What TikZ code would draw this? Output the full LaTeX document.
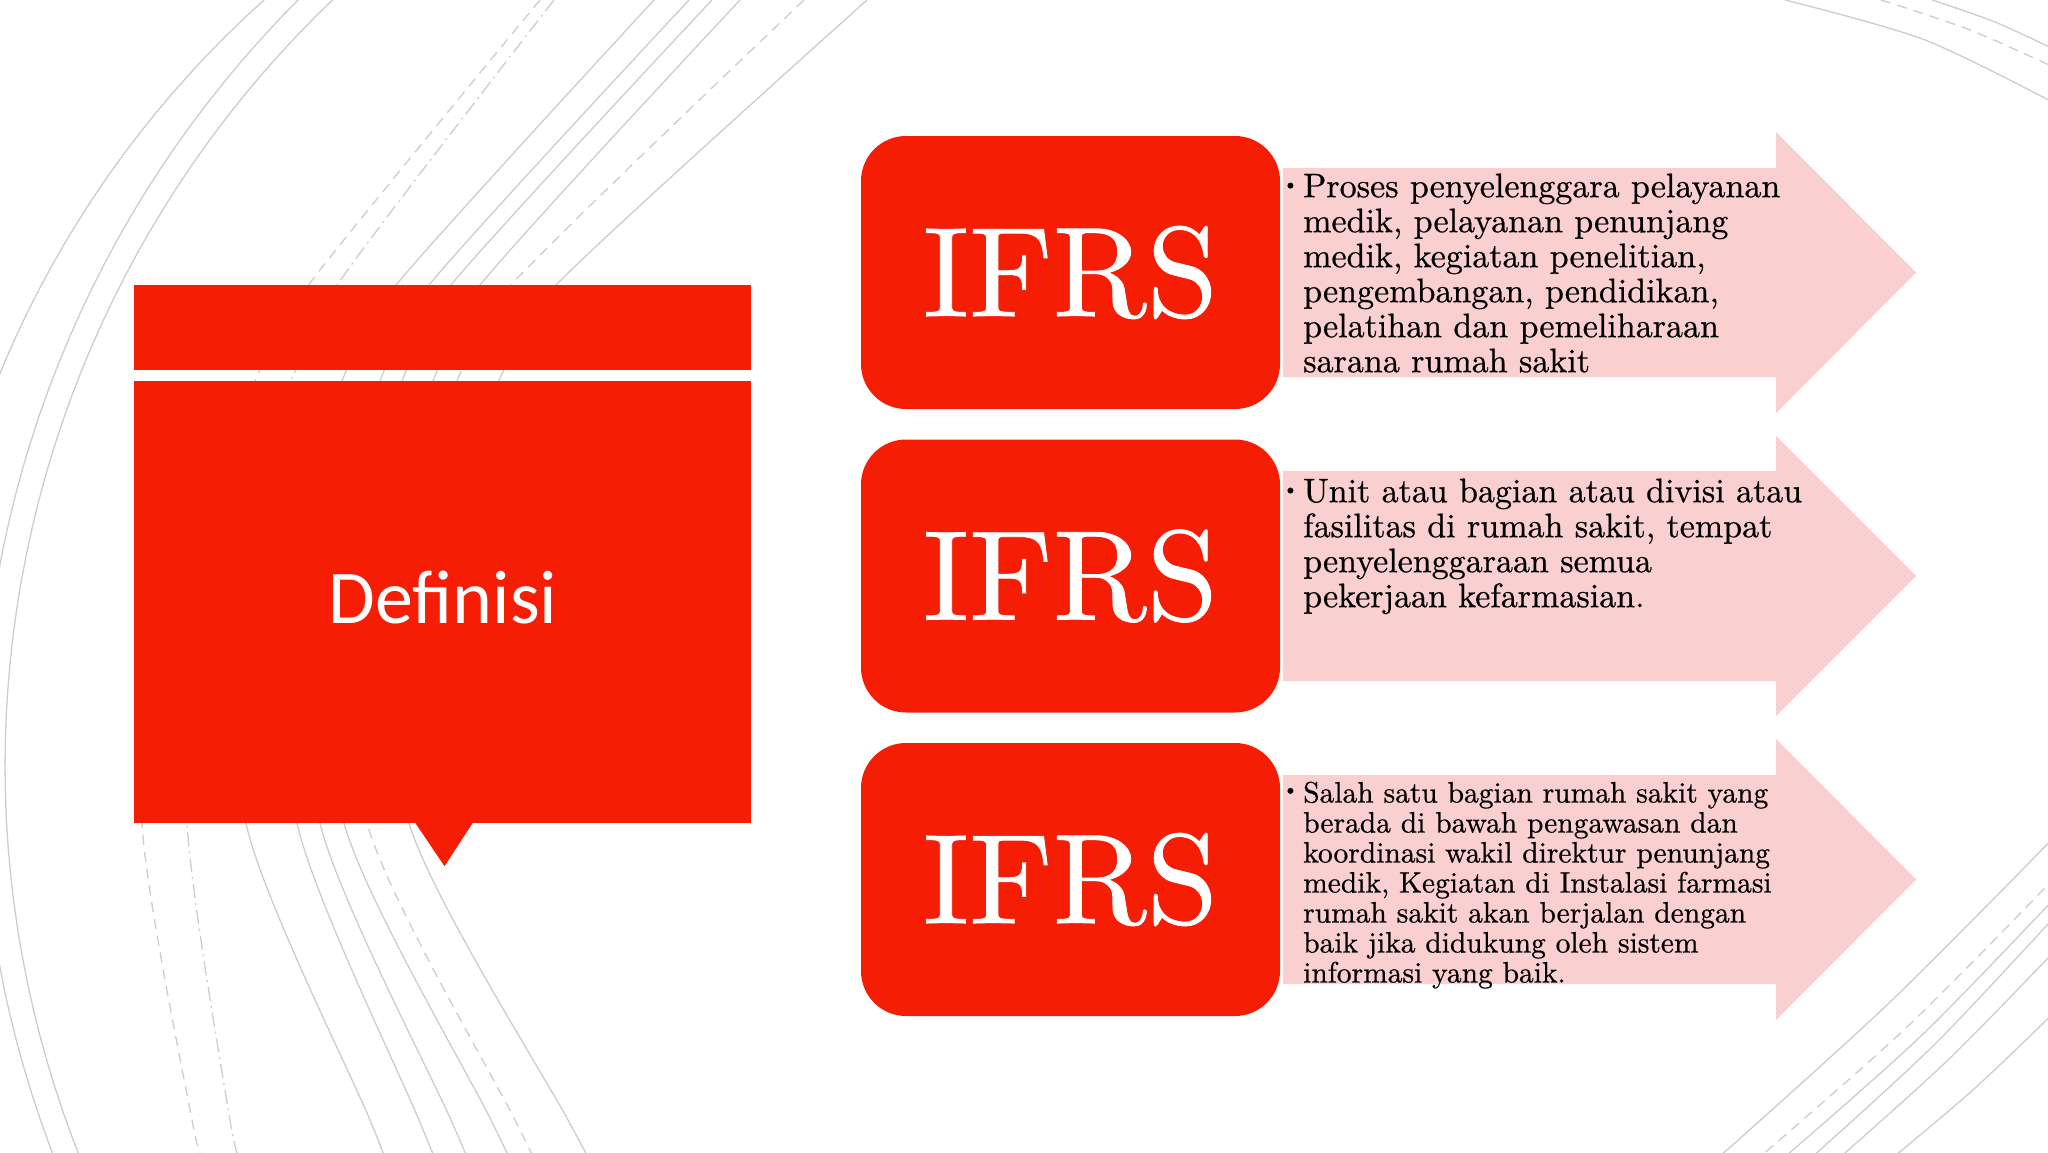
\documentclass[tikz,border=0pt]{standalone}
\usepackage{fontspec}
\setmainfont{lmroman10-regular.otf}
\newfontfamily\heavyfont[FakeBold=0.6]{lmroman10-regular.otf}
\newfontfamily\titlefont{Carlito}
\usetikzlibrary{positioning}

\definecolor{defred}{RGB}{246,29,5}
\definecolor{arrowpink}{RGB}{250,207,208}
\definecolor{ringgray}{RGB}{205,205,205}

\tikzset{
  ring/.style={draw=ringgray, line width=1.3pt},
  ringdash/.style={ring, dash pattern=on 10pt off 7pt},
  ringdashdot/.style={ring, dash pattern=on 14pt off 5pt on 2pt off 5pt},
  ifrsbox/.style={fill=defred, rounded corners=45pt, minimum width=419pt,
    minimum height=273pt, inner sep=0pt, text=white,
    font=\heavyfont\fontsize{128}{128}\selectfont},
  desctext/.style={anchor=north west, align=left, inner sep=0pt,
    font=\heavyfont\fontsize{34}{35}\selectfont},
  desctextsmall/.style={desctext, font=\heavyfont\fontsize{29.5}{30}\selectfont}
}
\newcommand{\bul}{\llap{\raisebox{7pt}{\fontsize{20}{20}\selectfont\textbullet}\hspace{5pt}}}

\begin{document}
\begin{tikzpicture}[x=1pt,y=-1pt]
  \useasboundingbox (0,0) rectangle (2048,1152);
  \fill[white] (0,0) rectangle (2048,1152);

  % background rings
  \begin{scope}
    \clip (0,0) rectangle (2048,1152);
    \draw[ring] plot[domain=120:250,samples=90] ({951+1029*cos(\x)},{766+1029*sin(\x)});
    \draw[ring] plot[domain=120:250,samples=90] ({1065+1084*cos(\x)},{766+1084*sin(\x)});
    \draw[ring] plot[domain=120:250,samples=90] ({1065+1060*cos(\x)},{766+1060*sin(\x)});
    \draw[ringdash] plot[smooth] coordinates {(540,0) (310,283) (257,376) (163,600) (142,823) (192,1120) (205,1160)};
    \draw[ringdashdot] plot[smooth] coordinates {(554,0) (342,278) (293,376) (200,600) (187,823) (230,1120) (242,1160)};
    \draw[ring] plot[smooth] coordinates {(654,0) (396,285) (344,376) (260,600) (246,823) (370,1120) (385,1160)};
    \draw[ring] plot[smooth] coordinates {(689,0) (429,285) (382,376) (305,600) (297,823) (419,1120) (436,1160)};
    \draw[ring] plot[smooth] coordinates {(712,0) (451,285) (404,376) (328,600) (320,823) (451,1120) (468,1160)};
    \draw[ring] plot[smooth] coordinates {(740,0) (480,285) (435,376) (352,600) (344,823) (491,1120) (510,1160)};
    \draw[ringdash] plot[smooth] coordinates {(804,0) (511,285) (459,376) (375,600) (367,823) (515,1120) (535,1160)};
    \draw[ring] plot[smooth] coordinates {(867,0) (556,285) (501,376) (415,600) (409,823) (568,1120) (590,1160)};
    % top right
    \draw[ring] plot[smooth] coordinates {(1785,0) (1925,40) (2060,106)};
    \draw[ringdash] plot[smooth] coordinates {(1881,0) (1970,30) (2060,70)};
    \draw[ring] plot[smooth] coordinates {(1932,0) (1995,22) (2060,52)};
    % bottom right
    \draw[ring] plot[smooth] coordinates {(1700,1174) (1889,1003) (2070,821)};
    \draw[ringdash] plot[smooth] coordinates {(1740,1174) (1907,1027) (2070,862)};
    \draw[ring] plot[smooth] coordinates {(1765,1174) (1921,1036) (2070,882)};
    \draw[ring] plot[smooth] coordinates {(1793,1174) (1934,1045) (2070,900)};
    \draw[ring] plot[smooth] coordinates {(1821,1174) (1948,1060) (2070,935)};
    \draw[ring] plot[smooth] coordinates {(1873,1174) (1974,1089) (2070,997)};
  \end{scope}

  % title block
  \node[fill=defred, minimum width=617pt, minimum height=85pt, inner sep=0pt] (defhead) at (442.5,327.5) {};
  \node[fill=defred, minimum width=617pt, minimum height=442pt, inner sep=0pt] (defbox) at (442.5,602) {};
  \fill[defred] ([xshift=-27pt]defbox.south) -- ([xshift=2pt,yshift=-43pt]defbox.south)
    -- ([xshift=30pt]defbox.south) -- cycle;
  \node[text=white, font=\titlefont\fontsize{76}{76}\selectfont] (deftitle) at (443,597) {Definisi};

  % arrows
  \fill[arrowpink] (1283,168) -- (1776,168) -- (1776,132) -- (1916,272.5) -- (1776,413) -- (1776,377) -- (1283,377) -- cycle;
  \fill[arrowpink] (1283,471) -- (1776,471) -- (1776,436) -- (1916,576) -- (1776,716) -- (1776,681) -- (1283,681) -- cycle;
  \fill[arrowpink] (1283,775) -- (1776,775) -- (1776,739) -- (1916,879.5) -- (1776,1020) -- (1776,984) -- (1283,984) -- cycle;

  \node[ifrsbox] (ifrs1) at (1070.5,272.5) {IFRS};
  \node[ifrsbox] (ifrs2) at (1070.5,576) {IFRS};
  \node[ifrsbox] (ifrs3) at (1070.5,879.5) {IFRS};

  \node[desctext] (desc1) at (1303,173.4) {\bul Proses penyelenggara pelayanan\\
    medik, pelayanan penunjang\\ medik, kegiatan penelitian,\\
    pengembangan, pendidikan,\\ pelatihan dan pemeliharaan\\ sarana rumah sakit};
  \node[desctext] (desc2) at (1303,478.4) {\bul Unit atau bagian atau divisi atau\\
    fasilitas di rumah sakit, tempat\\ penyelenggaraan semua\\ pekerjaan kefarmasian.};
  \node[desctextsmall] (desc3) at (1303,781.5) {\bul Salah satu bagian rumah sakit yang\\
    berada di bawah pengawasan dan\\ koordinasi wakil direktur penunjang\\
    medik, Kegiatan di Instalasi farmasi\\ rumah sakit akan berjalan dengan\\
    baik jika didukung oleh sistem\\ informasi yang baik.};
\end{tikzpicture}
\end{document}
